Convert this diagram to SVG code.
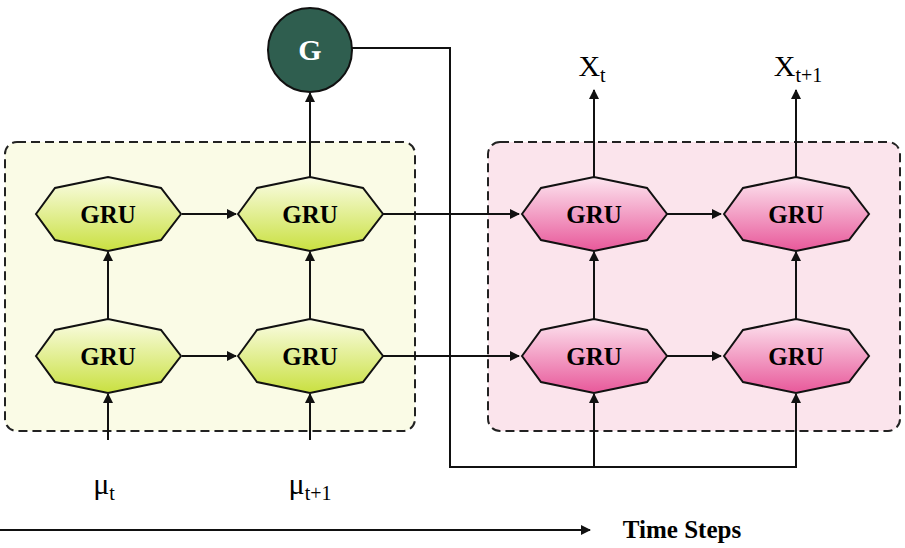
<svg xmlns="http://www.w3.org/2000/svg" width="905" height="548" viewBox="0 0 905 548">
<defs>
<linearGradient id="gy" x1="0" y1="0" x2="0" y2="1"><stop offset="0" stop-color="#fbfde6"/><stop offset="1" stop-color="#c9e040"/></linearGradient>
<linearGradient id="gp" x1="0" y1="0" x2="0" y2="1"><stop offset="0" stop-color="#fde6f0"/><stop offset="1" stop-color="#e8589a"/></linearGradient>
<marker id="a" markerWidth="10" markerHeight="10" refX="9" refY="5" orient="auto" markerUnits="userSpaceOnUse"><path d="M0,0L10,5L0,10z" fill="#111"/></marker>
<polygon id="oct" points="-72,0 -53,-26 0,-37 53,-26 73,0 53,26 0,37 -53,26"/>
<style>
.box{stroke:#222;stroke-width:2;stroke-dasharray:9,5}
.c{fill:none;stroke:#111;stroke-width:2}
.c.m{marker-end:url(#a)}
.n use{stroke:#111;stroke-width:2}
.t{font-family:"Liberation Serif",serif;font-weight:bold;font-size:25px;text-anchor:middle}
.l{font-family:"Liberation Serif",serif;font-size:30px;text-anchor:middle}
.s{font-size:20px}
</style>
</defs>
<rect class="box" x="5" y="142" width="410" height="289" rx="12" fill="#fafbe6"/>
<rect class="box" x="488" y="142" width="412" height="289" rx="12" fill="#fbe4ec"/>
<g id="connectors">
<path class="c m" d="M182,214H236"/><path class="c m" d="M383,214H519"/><path class="c m" d="M666,214H721"/>
<path class="c m" d="M182,356H236"/><path class="c m" d="M383,356H519"/><path class="c m" d="M666,356H721"/>
<path class="c m" d="M108,319V252"/><path class="c m" d="M310,319V252"/><path class="c m" d="M594,319V252"/><path class="c m" d="M796,319V252"/>
<path class="c m" d="M310,177V93"/><path class="c m" d="M594,177V90"/><path class="c m" d="M796,177V90"/>
<path class="c m" d="M108,440V394"/><path class="c m" d="M310,440V394"/>
<path class="c m" d="M352,48H450V467H796V394"/>
<path class="c m" d="M594,467V394"/>
<path class="c m" d="M0,530H590"/>
</g>
<g id="g"><circle cx="310" cy="50" r="42" fill="#2f5e4f" stroke="#111" stroke-width="2"/><text class="t" x="310" y="60" fill="#fff" style="font-size:30px">G</text></g>
<g class="n" id="n1"><use href="#oct" x="108" y="214" fill="url(#gy)"/><text class="t" x="108" y="223">GRU</text></g>
<g class="n" id="n2"><use href="#oct" x="310" y="214" fill="url(#gy)"/><text class="t" x="310" y="223">GRU</text></g>
<g class="n" id="n3"><use href="#oct" x="108" y="356" fill="url(#gy)"/><text class="t" x="108" y="365">GRU</text></g>
<g class="n" id="n4"><use href="#oct" x="310" y="356" fill="url(#gy)"/><text class="t" x="310" y="365">GRU</text></g>
<g class="n" id="n5"><use href="#oct" x="594" y="214" fill="url(#gp)"/><text class="t" x="594" y="223">GRU</text></g>
<g class="n" id="n6"><use href="#oct" x="796" y="214" fill="url(#gp)"/><text class="t" x="796" y="223">GRU</text></g>
<g class="n" id="n7"><use href="#oct" x="594" y="356" fill="url(#gp)"/><text class="t" x="594" y="365">GRU</text></g>
<g class="n" id="n8"><use href="#oct" x="796" y="356" fill="url(#gp)"/><text class="t" x="796" y="365">GRU</text></g>
<text class="l" x="592" y="76">X<tspan class="s" dy="6">t</tspan></text>
<text class="l" x="798" y="76">X<tspan class="s" dy="6">t+1</tspan></text>
<text class="l" x="104" y="494">μ<tspan class="s" dy="6">t</tspan></text>
<text class="l" x="310" y="494">μ<tspan class="s" dy="6">t+1</tspan></text>
<text class="t" x="682" y="538">Time Steps</text>
</svg>
